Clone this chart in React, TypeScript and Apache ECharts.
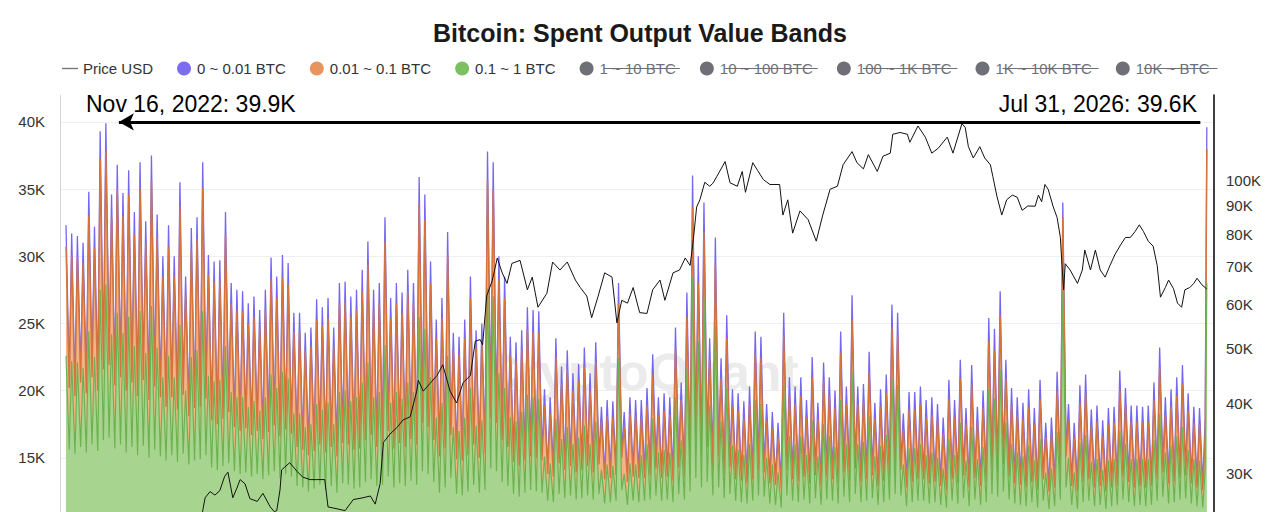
import React, { useEffect, useRef } from 'react';
import * as echarts from 'echarts';

const FONT = '"Liberation Sans", Arial, Helvetica, sans-serif';

// Week 0 starts Sunday 2022-09-25; weekly peak on Wednesday (day 7w+3), weekend trough on Sunday (day 7w+7)
const START_UTC = Date.UTC(2022, 8, 25);
const DAY_MS = 86400000;
const SPIKE_DAY = 1405; // 2026-07-31

const legendNames = [
  'Price USD', '0 ~ 0.01 BTC', '0.01 ~ 0.1 BTC', '0.1 ~ 1 BTC',
  '1 ~ 10 BTC', '10 ~ 100 BTC', '100 ~ 1K BTC', '1K ~ 10K BTC', '10K ~ BTC',
];
const hiddenBands = ['1 ~ 10 BTC', '10 ~ 100 BTC', '100 ~ 1K BTC', '1K ~ 10K BTC', '10K ~ BTC'];
const rightTicks = [30000, 40000, 50000, 60000, 70000, 80000, 90000, 100000];

// Weekly peaks (K): total stacked top, green band, purple band
const totalPeakK = [
  32.3, 31.7, 31.5, 31.0, 34.8, 32.2, 39.3, 39.9, 34.6, 36.8,
  34.7, 36.4, 33.3, 37.0, 32.6, 37.5, 33.1, 30.0, 32.3, 30.0,
  35.5, 28.5, 32.1, 32.9, 37.0, 30.1, 29.6, 29.7, 33.3, 28.0,
  27.5, 27.4, 26.5, 27.0, 26.0, 27.5, 29.9, 28.5, 30.1, 29.5,
  25.8, 25.8, 24.3, 24.7, 26.8, 26.2, 26.9, 24.7, 28.0, 28.1,
  27.0, 27.5, 29.0, 31.1, 27.5, 28.0, 32.9, 26.9, 28.0, 27.3,
  29.0, 28.0, 35.9, 34.6, 29.6, 25.3, 26.9, 31.8, 24.3, 24.0,
  25.3, 28.5, 24.5, 25.0, 37.8, 37.0, 30.0, 28.5, 24.0, 23.6,
  24.5, 26.2, 26.0, 25.9, 20.1, 19.5, 23.9, 21.8, 23.0, 21.3,
  22.0, 23.2, 21.3, 23.6, 18.8, 19.3, 19.2, 28.0, 18.4, 19.5,
  19.3, 19.3, 20.2, 22.7, 19.5, 19.8, 19.5, 24.7, 20.6, 27.3,
  36.0, 30.0, 34.0, 23.9, 31.4, 22.4, 25.6, 20.1, 19.8, 19.2,
  20.3, 24.4, 24.0, 19.0, 18.4, 17.6, 25.8, 21.0, 20.3, 21.0,
  19.3, 22.5, 19.1, 22.1, 21.0, 20.0, 24.4, 20.3, 27.1, 20.3,
  20.5, 22.9, 19.1, 20.1, 21.2, 26.4, 25.8, 18.3, 19.9, 19.9,
  20.3, 19.3, 19.5, 19.0, 18.0, 20.8, 19.3, 22.3, 18.7, 21.9,
  18.8, 20.0, 25.4, 24.6, 27.4, 22.3, 20.2, 19.5, 19.1, 20.1,
  18.7, 20.8, 17.6, 18.0, 21.4, 34.0, 19.0, 17.6, 20.4, 21.2,
  18.6, 18.9, 17.8, 18.7, 18.8, 21.5, 20.2, 18.9, 18.9, 18.8,
  18.9, 20.6, 23.2, 19.5, 20.1, 21.0, 21.9, 19.8, 18.8, 18.7,
  18.0,
];
const greenPeakK = [
  22.6, 22.2, 22.1, 21.7, 24.4, 22.5, 27.5, 27.9, 24.2, 25.8,
  24.3, 25.5, 23.3, 25.9, 22.8, 26.3, 23.2, 21.0, 22.6, 21.0,
  24.9, 20.0, 22.5, 23.0, 25.9, 21.1, 20.7, 20.8, 23.3, 19.9,
  19.5, 19.5, 18.8, 19.2, 18.5, 19.5, 21.2, 20.2, 21.4, 20.9,
  18.3, 18.3, 17.3, 17.5, 19.0, 18.6, 19.1, 17.5, 19.9, 20.0,
  19.2, 19.5, 20.6, 22.1, 19.5, 19.9, 23.4, 19.1, 19.9, 19.4,
  20.6, 19.9, 25.5, 24.6, 21.0, 18.0, 19.1, 22.6, 17.3, 17.0,
  18.0, 20.2, 17.4, 17.8, 27.6, 27.0, 21.3, 20.2, 18.0, 17.7,
  18.4, 19.7, 19.5, 19.4, 15.1, 14.6, 17.9, 16.4, 17.3, 16.0,
  16.5, 17.4, 16.0, 17.7, 14.1, 14.5, 14.4, 22.4, 13.8, 14.6,
  14.5, 15.2, 16.0, 17.9, 15.4, 15.6, 15.4, 19.5, 16.3, 21.6,
  28.4, 23.7, 26.9, 18.9, 24.8, 17.7, 20.2, 15.9, 15.6, 15.2,
  16.0, 19.3, 19.0, 15.0, 14.5, 13.9, 20.4, 16.6, 16.0, 16.6,
  15.2, 17.8, 15.1, 17.5, 16.6, 15.8, 19.3, 16.0, 21.4, 16.0,
  16.2, 18.1, 15.1, 15.9, 16.7, 20.9, 20.4, 14.5, 15.7, 15.7,
  16.0, 15.2, 15.4, 15.0, 14.2, 16.4, 15.2, 17.6, 14.8, 17.3,
  14.9, 15.8, 20.1, 19.4, 21.6, 17.6, 16.0, 15.4, 15.1, 15.9,
  14.8, 16.4, 13.9, 14.2, 16.9, 27.4, 15.0, 13.9, 16.1, 16.7,
  14.7, 14.9, 14.1, 14.8, 14.9, 17.0, 16.0, 14.9, 14.9, 14.9,
  14.9, 16.3, 18.3, 15.4, 15.9, 16.6, 17.3, 15.6, 14.9, 14.8,
  14.2,
];
const purplePeakK = [
  1.6, 1.6, 1.6, 1.5, 1.8, 1.6, 2.0, 2.0, 1.7, 1.8,
  1.7, 1.8, 1.7, 1.9, 1.6, 1.9, 1.7, 1.5, 1.6, 1.5,
  1.8, 1.4, 1.6, 1.6, 1.9, 1.5, 1.5, 1.5, 1.7, 1.5,
  1.5, 1.5, 1.5, 1.5, 1.4, 1.5, 1.6, 1.6, 1.7, 1.6,
  1.4, 1.4, 1.3, 1.4, 1.5, 1.4, 1.5, 1.4, 1.5, 1.5,
  1.5, 1.5, 1.6, 1.7, 1.5, 1.5, 1.8, 1.5, 1.5, 1.5,
  1.6, 1.5, 2.0, 1.9, 1.6, 1.4, 1.5, 1.7, 1.3, 1.3,
  1.4, 1.6, 1.3, 1.4, 2.1, 2.0, 1.7, 1.6, 1.4, 1.4,
  1.5, 1.6, 1.6, 1.6, 1.2, 1.2, 1.4, 1.3, 1.4, 1.3,
  1.3, 1.4, 1.3, 1.4, 1.1, 1.2, 1.2, 1.5, 1.1, 1.2,
  1.2, 1.3, 1.3, 1.5, 1.3, 1.3, 1.3, 1.6, 1.3, 1.8,
  2.3, 2.0, 2.2, 1.6, 2.0, 1.5, 1.7, 1.3, 1.3, 1.2,
  1.3, 1.6, 1.6, 1.2, 1.2, 1.1, 1.7, 1.4, 1.3, 1.4,
  1.3, 1.5, 1.2, 1.4, 1.4, 1.3, 1.6, 1.3, 1.8, 1.3,
  1.3, 1.5, 1.2, 1.3, 1.4, 1.7, 1.7, 1.2, 1.3, 1.3,
  1.3, 1.3, 1.3, 1.2, 1.2, 1.4, 1.3, 1.4, 1.2, 1.4,
  1.2, 1.3, 1.7, 1.6, 1.8, 1.4, 1.3, 1.3, 1.2, 1.3,
  1.2, 1.4, 1.1, 1.2, 1.4, 1.1, 1.2, 1.1, 1.3, 1.4,
  1.2, 1.2, 1.2, 1.2, 1.2, 1.4, 1.3, 1.2, 1.2, 1.2,
  1.2, 1.3, 1.5, 1.3, 1.3, 1.4, 1.4, 1.3, 1.2, 1.2,
  1.2,
];

// Weekend troughs (K) per band
const greenTroughK = [
  15.6, 15.3, 15.8, 15.4, 16.0, 15.5, 16.3, 16.5, 15.7, 16.0,
  15.4, 15.8, 15.2, 15.9, 15.0, 15.6, 15.1, 14.8, 15.2, 14.7,
  15.3, 14.5, 14.8, 14.9, 15.2, 14.3, 14.1, 14.4, 14.6, 14.0,
  13.8, 13.9, 13.6, 13.8, 13.4, 13.7, 14.0, 13.5, 13.8, 13.6,
  12.9, 12.8, 12.5, 12.7, 13.0, 12.6, 12.9, 12.4, 13.1, 13.0,
  12.7, 12.8, 13.2, 13.4, 12.9, 13.0, 13.6, 12.8, 13.1, 12.9,
  13.3, 13.0, 14.0, 13.8, 13.2, 12.4, 12.8, 13.5, 12.3, 12.2,
  12.5, 13.0, 12.4, 12.6, 14.2, 14.0, 13.2, 12.9, 12.3, 12.1,
  12.4, 12.6, 12.5, 12.4, 11.8, 11.7, 12.3, 12.0, 12.2, 11.9,
  12.0, 12.2, 11.9, 12.3, 11.6, 11.7, 11.8, 12.6, 11.5, 11.8,
  11.7, 11.8, 11.9, 12.2, 11.8, 11.9, 11.7, 12.3, 11.9, 12.5,
  13.5, 12.8, 13.2, 12.2, 12.8, 12.0, 12.3, 11.8, 11.7, 11.6,
  11.8, 12.2, 12.1, 11.6, 11.5, 11.3, 12.2, 11.8, 11.7, 11.9,
  11.6, 12.0, 11.5, 11.9, 11.8, 11.6, 12.1, 11.7, 12.3, 11.7,
  11.8, 12.0, 11.5, 11.7, 11.9, 12.3, 12.2, 11.4, 11.7, 11.8,
  11.8, 11.6, 11.7, 11.5, 11.3, 11.8, 11.6, 12.0, 11.4, 11.9,
  11.5, 11.7, 12.3, 12.1, 12.5, 11.9, 11.6, 11.5, 11.4, 11.7,
  11.3, 11.8, 11.2, 11.4, 11.9, 12.8, 11.5, 11.2, 11.7, 11.8,
  11.4, 11.5, 11.2, 11.4, 11.5, 11.9, 11.7, 11.4, 11.5, 11.4,
  11.5, 11.8, 12.1, 11.6, 11.7, 11.9, 12.0, 11.6, 11.4, 11.3,
];
const orangeTroughK = [
  4.6, 4.3, 4.8, 4.4, 5.0, 4.5, 5.3, 5.4, 4.7, 5.0,
  4.6, 4.8, 4.4, 4.9, 4.3, 4.7, 4.4, 4.0, 4.3, 3.9,
  4.4, 3.6, 3.9, 3.9, 4.2, 3.5, 3.4, 3.5, 3.8, 3.3,
  3.2, 3.3, 3.1, 3.2, 3.0, 3.2, 3.4, 3.1, 3.3, 3.2,
  2.9, 2.8, 2.7, 2.8, 3.0, 2.8, 2.9, 2.7, 3.0, 3.0,
  2.9, 2.9, 3.1, 3.3, 2.9, 3.0, 3.4, 2.9, 3.0, 2.9,
  3.1, 3.0, 3.6, 3.5, 3.1, 2.7, 2.9, 3.2, 2.6, 2.6,
  2.7, 3.0, 2.6, 2.7, 3.7, 3.6, 3.1, 2.9, 2.4, 2.3,
  2.4, 2.5, 2.5, 2.4, 2.0, 1.9, 2.3, 2.1, 2.2, 2.0,
  2.1, 2.2, 2.0, 2.2, 1.8, 1.8, 1.9, 2.4, 1.7, 1.8,
  1.8, 1.7, 1.8, 2.0, 1.7, 1.7, 1.6, 2.0, 1.7, 2.1,
  2.8, 2.3, 2.6, 1.9, 2.3, 1.8, 2.0, 1.6, 1.6, 1.5,
  1.6, 1.9, 1.8, 1.5, 1.5, 1.4, 1.9, 1.6, 1.6, 1.7,
  1.5, 1.7, 1.4, 1.7, 1.6, 1.5, 1.8, 1.6, 1.9, 1.5,
  1.6, 1.7, 1.4, 1.6, 1.7, 1.9, 1.9, 1.4, 1.5, 1.6,
  1.6, 1.5, 1.5, 1.4, 1.3, 1.6, 1.5, 1.7, 1.4, 1.6,
  1.4, 1.5, 1.9, 1.8, 2.0, 1.7, 1.5, 1.5, 1.4, 1.5,
  1.3, 1.6, 1.3, 1.4, 1.6, 2.3, 1.4, 1.3, 1.5, 1.6,
  1.4, 1.4, 1.3, 1.4, 1.4, 1.7, 1.5, 1.4, 1.4, 1.4,
  1.4, 1.6, 1.8, 1.5, 1.5, 1.6, 1.7, 1.5, 1.4, 1.3,
];
const purpleTroughK = [
  0.8, 0.7, 0.8, 0.8, 0.9, 0.8, 0.9, 0.9, 0.8, 0.8,
  0.8, 0.8, 0.7, 0.8, 0.7, 0.8, 0.7, 0.7, 0.7, 0.7,
  0.7, 0.6, 0.6, 0.7, 0.7, 0.6, 0.6, 0.6, 0.6, 0.6,
  0.6, 0.6, 0.6, 0.6, 0.5, 0.6, 0.6, 0.6, 0.6, 0.6,
  0.6, 0.5, 0.5, 0.6, 0.5, 0.6, 0.5, 0.6, 0.6, 0.6,
  0.6, 0.6, 0.6, 0.6, 0.6, 0.6, 0.7, 0.6, 0.6, 0.6,
  0.6, 0.6, 0.7, 0.7, 0.6, 0.5, 0.6, 0.6, 0.5, 0.5,
  0.5, 0.6, 0.5, 0.5, 0.7, 0.7, 0.6, 0.6, 0.5, 0.5,
  0.5, 0.5, 0.5, 0.5, 0.4, 0.4, 0.5, 0.5, 0.5, 0.5,
  0.5, 0.5, 0.5, 0.5, 0.4, 0.4, 0.4, 0.5, 0.4, 0.4,
  0.4, 0.4, 0.5, 0.5, 0.4, 0.4, 0.4, 0.5, 0.4, 0.5,
  0.6, 0.5, 0.6, 0.5, 0.5, 0.5, 0.5, 0.4, 0.4, 0.4,
  0.4, 0.5, 0.5, 0.4, 0.4, 0.4, 0.5, 0.4, 0.4, 0.4,
  0.4, 0.5, 0.4, 0.4, 0.4, 0.4, 0.5, 0.4, 0.5, 0.4,
  0.4, 0.4, 0.4, 0.4, 0.4, 0.5, 0.5, 0.4, 0.4, 0.4,
  0.4, 0.4, 0.4, 0.4, 0.4, 0.4, 0.4, 0.5, 0.4, 0.4,
  0.4, 0.4, 0.5, 0.5, 0.5, 0.4, 0.4, 0.4, 0.4, 0.4,
  0.4, 0.4, 0.4, 0.4, 0.4, 0.5, 0.4, 0.4, 0.4, 0.4,
  0.4, 0.4, 0.4, 0.4, 0.4, 0.5, 0.4, 0.4, 0.4, 0.4,
  0.4, 0.4, 0.5, 0.4, 0.4, 0.4, 0.5, 0.4, 0.4, 0.4,
];

// Final-day spike on 2026-07-31 (K)
const spikeGreenK = 28.0;
const spikeOrangeK = 10.0;
const spikePurpleK = 1.6;

// Price USD: day offset from 2022-09-25, value in K
const priceDays = [
  166, 171, 174, 180, 186, 192, 198, 202, 208, 213, 217, 223, 229, 238, 245, 254, 259, 262, 266, 268,
  278, 287, 294, 303, 311, 321, 325, 336, 346, 356, 368, 377, 383, 389, 393, 401, 410, 417, 426, 434,
  436, 442, 450, 459, 466, 475, 483, 491, 500, 506, 512, 515, 520, 527, 533, 539, 545, 551, 561, 570,
  576, 583, 594, 601, 610, 619, 629, 635, 643, 649, 657, 665, 674, 680, 686, 693, 700, 708, 717, 724,
  733, 739, 749, 757, 764, 770, 774, 778, 782, 788, 794, 798, 803, 813, 819, 828, 834, 838, 847, 853,
  860, 868, 880, 884, 890, 896, 905, 915, 925, 933, 942, 951, 958, 969, 975, 983, 989, 1000, 1007, 1016,
  1019, 1028, 1037, 1040, 1050, 1059, 1067, 1075, 1086, 1093, 1104, 1108, 1112, 1118, 1126, 1132, 1139, 1142, 1147, 1153,
  1159, 1166, 1172, 1178, 1185, 1194, 1198, 1202, 1206, 1210, 1216, 1221, 1225, 1227, 1229, 1231, 1237, 1246, 1252, 1255,
  1262, 1268, 1274, 1280, 1286, 1292, 1299, 1305, 1311, 1317, 1322, 1327, 1333, 1339, 1344, 1348, 1354, 1358, 1364, 1369,
  1374, 1378, 1384, 1389, 1393, 1399, 1405,
];
const priceK = [
  22.5, 25.7, 27.1, 27.8, 27.4, 27.9, 29.6, 30.1, 27.1, 28.2, 29.2, 28.7, 27.0, 26.7, 27.6, 26.1, 25.6, 25.7, 28.0, 30.4,
  31.3, 30.2, 29.5, 29.2, 29.2, 29.2, 26.1, 25.9, 25.7, 26.9, 27.1, 27.3, 26.4, 28.7, 34.0, 35.2, 36.2, 37.3, 37.8, 42.0,
  43.9, 42.0, 43.3, 44.8, 46.8, 42.0, 40.0, 43.5, 44.8, 51.6, 51.9, 50.8, 62.1, 66.3, 72.6, 68.3, 65.4, 71.0, 71.9, 63.7,
  67.1, 59.3, 62.8, 71.4, 69.1, 71.4, 66.3, 64.3, 62.1, 56.8, 62.1, 68.3, 67.1, 55.6, 61.0, 60.3, 64.3, 58.0, 57.8, 63.7,
  66.3, 61.0, 68.3, 69.1, 72.6, 70.4, 78.4, 89.5, 92.2, 99.1, 97.5, 98.7, 101.6, 107.9, 98.9, 97.5, 103.6, 95.1, 107.4, 104.0,
  100.2, 98.2, 98.2, 86.6, 92.2, 80.4, 88.1, 85.0, 77.8, 86.6, 96.3, 97.5, 106.5, 112.4, 107.4, 104.7, 111.0, 103.6, 110.3, 111.7,
  120.7, 121.6, 120.7, 116.8, 124.9, 119.3, 111.7, 114.0, 119.3, 111.7, 126.1, 124.2, 114.7, 109.5, 114.7, 109.5, 106.5, 101.5, 93.6, 86.6,
  92.2, 94.0, 93.2, 88.3, 89.9, 89.8, 94.0, 91.5, 98.2, 96.3, 89.8, 85.7, 79.0, 70.4, 63.7, 70.9, 69.1, 65.4, 69.1, 75.0,
  69.1, 75.0, 69.1, 67.1, 70.4, 73.6, 76.6, 79.0, 79.0, 81.0, 83.2, 81.0, 77.8, 76.2, 70.4, 61.8, 64.3, 66.3, 64.0, 60.3,
  59.3, 63.7, 64.3, 65.4, 66.8, 65.0, 63.9,
];

// Annotation (arrow and labels)
const arrowFromDay = 1397;
const arrowToDay = 68;
const arrowLevel = 40000;
const annotLeft = 'Nov 16, 2022: 39.9K';
const annotRight = 'Jul 31, 2026: 39.6K';

const dayTs = (d: number) => START_UTC + d * DAY_MS;
const orangePeakK = totalPeakK.map((t, i) => Math.round((t - greenPeakK[i] - purplePeakK[i]) * 100) / 100);

function bandData(peak: number[], trough: number[], spike: number) {
  const pts: [number, number][] = [];
  peak.forEach((v, w) => {
    pts.push([dayTs(7 * w + 3), v * 1000]);
    if (w < trough.length) pts.push([dayTs(7 * w + 7), trough[w] * 1000]);
  });
  pts.push([dayTs(SPIKE_DAY), spike * 1000]);
  return pts;
}

const COLORS: Record<string, string> = {
  'Price USD': '#777777',
  '0 ~ 0.01 BTC': '#7b6cf0',
  '0.01 ~ 0.1 BTC': '#e9935d',
  '0.1 ~ 1 BTC': '#7dc063',
};
const INACTIVE = '#6f6f78';
const CHART_H = 540; // taller canvas; the page window shows the top 512 px

export default function App() {
  const ref = useRef<HTMLDivElement>(null);
  useEffect(() => {
    document.body.style.margin = '0';
    const chart = echarts.init(ref.current!, undefined, { renderer: 'svg' });

    const LEG_FS = 15, ICON_W = 16, ICON_H = 14, GAP = 24, LEG_TOP = 61;
    const ctx = document.createElement('canvas').getContext('2d')!;
    ctx.font = `${LEG_FS}px ${FONT}`;
    const widths = legendNames.map((n) => ctx.measureText(n).width);
    const itemW = widths.map((w) => ICON_W + 5 + w);
    const total = itemW.reduce((a, b) => a + b, 0) + GAP * (legendNames.length - 1);
    const legLeft = Math.round((1280 - total) / 2);
    const strikes: any[] = [];
    let cx = legLeft;
    legendNames.forEach((n, i) => {
      if (hiddenBands.includes(n)) {
        const x1 = cx + ICON_W + 5;
        strikes.push({
          type: 'line', z: 100, silent: true,
          shape: { x1, y1: LEG_TOP + ICON_H / 2 + 0.5, x2: x1 + widths[i], y2: LEG_TOP + ICON_H / 2 + 0.5 },
          style: { stroke: INACTIVE, lineWidth: 1 },
        });
      }
      cx += itemW[i] + GAP;
    });

    const selected: Record<string, boolean> = {};
    hiddenBands.forEach((n) => (selected[n] = false));

    const bandSeries = (name: string, line: string, width: number, fill: string, data: any, z: number, extra: any = {}) => ({
      name, type: 'line', stack: 'bands', yAxisIndex: 0, symbol: 'none', showSymbol: false,
      color: COLORS[name], lineStyle: { color: line, width },
      areaStyle: { color: fill, opacity: 1 }, emphasis: { disabled: true }, data, z, ...extra,
    });

    const option: any = {
      animation: false,
      textStyle: { fontFamily: FONT },
      title: {
        text: 'Bitcoin: Spent Output Value Bands', left: 'center', top: 15,
        textStyle: { fontSize: 25, fontWeight: 'bold', color: '#1a1a1a', fontFamily: FONT },
      },
      legend: {
        left: legLeft, top: LEG_TOP, padding: 0, itemGap: GAP, itemWidth: ICON_W, itemHeight: ICON_H,
        textStyle: { fontSize: LEG_FS, color: '#333', fontFamily: FONT },
        inactiveColor: INACTIVE, inactiveBorderColor: INACTIVE, selected,
        data: legendNames.map((n) =>
          n === 'Price USD'
            ? { name: n, icon: 'path://M0,0 L16,0 L16,1.4 L0,1.4 Z', itemStyle: { color: COLORS[n] } }
            : { name: n, icon: 'circle', itemStyle: { color: COLORS[n] || INACTIVE } }
        ),
      },
      grid: { left: 60, right: 66, top: 95, bottom: CHART_H - 525, containLabel: false, outerBoundsMode: 'none' },
      xAxis: { type: 'time', min: dayTs(-4.37), max: dayTs(1413.8), show: false },
      yAxis: [
        {
          type: 'value', position: 'left', min: 10000, max: 42000, interval: 5000,
          axisLine: { show: true, lineStyle: { color: '#d6d6d6', width: 1 } },
          axisTick: { show: false },
          axisLabel: {
            color: '#333', fontSize: 15, margin: 15, showMaxLabel: false, showMinLabel: false, fontFamily: FONT,
            formatter: (v: number) => `${v / 1000}K`,
          },
          splitLine: { show: true, showMaxLine: false, lineStyle: { color: '#efefef', width: 1 } },
        },
        {
          type: 'log', logBase: 10, position: 'right', min: 24230, max: 141850,
          axisLine: { show: true, lineStyle: { color: '#000', width: 1.5 } },
          axisTick: { show: false }, axisLabel: { show: false }, splitLine: { show: false },
        },
      ],
      graphic: [
        {
          type: 'text', x: 640, y: 372, z: 0, silent: true,
          style: { text: 'CryptoQuant', font: `bold 52px ${FONT}`, fill: '#ebebeb', align: 'center', verticalAlign: 'middle' },
        },
        {
          type: 'text', x: 86, y: 104, z: 100, silent: true,
          style: { text: annotLeft, font: `23px ${FONT}`, fill: '#000', align: 'left', verticalAlign: 'middle' },
        },
        {
          type: 'text', x: 1197, y: 104, z: 100, silent: true,
          style: { text: annotRight, font: `23px ${FONT}`, fill: '#000', align: 'right', verticalAlign: 'middle' },
        },
        ...strikes,
      ],
      series: [
        // stacked bottom-to-top: green, orange, purple; drawn with green on top
        bandSeries('0.1 ~ 1 BTC', '#6db24e', 1.2, '#a7d590', bandData(greenPeakK, greenTroughK, spikeGreenK), 4, {
          markLine: {
            silent: true, animation: false, symbol: ['none', 'arrow'], symbolSize: [13, 15],
            lineStyle: { color: '#000', width: 3, type: 'solid' }, label: { show: false },
            emphasis: { disabled: true },
            data: [[{ coord: [dayTs(arrowFromDay), arrowLevel] }, { coord: [dayTs(arrowToDay), arrowLevel] }]],
          },
        }),
        bandSeries('0.01 ~ 0.1 BTC', '#d6743c', 1.4, '#f2b387', bandData(orangePeakK, orangeTroughK, spikeOrangeK), 3),
        bandSeries('0 ~ 0.01 BTC', '#7566f0', 1.3, '#8c80f2', bandData(purplePeakK, purpleTroughK, spikePurpleK), 2),
        {
          name: 'Price USD', type: 'line', yAxisIndex: 1, symbol: 'none', showSymbol: false, z: 6,
          color: '#000', lineStyle: { color: '#111', width: 1 }, emphasis: { disabled: true },
          data: priceDays.map((d, i) => [dayTs(d), priceK[i] * 1000]),
          markLine: {
            silent: true, animation: false, symbol: 'none',
            lineStyle: { color: 'rgba(0,0,0,0)', width: 1 },
            emphasis: { disabled: true },
            label: {
              show: true, position: 'end', distance: 12, color: '#333', fontSize: 15, fontFamily: FONT,
              formatter: (p: any) => `${Math.round(p.value / 1000)}K`,
            },
            data: rightTicks.map((v) => ({ yAxis: v })),
          },
        },
        ...hiddenBands.map((n) => ({
          name: n, type: 'line', stack: 'bands', yAxisIndex: 0, symbol: 'none', color: INACTIVE, data: [],
        })),
      ],
    };
    chart.setOption(option);
    return () => chart.dispose();
  }, []);
  return (
    <div style={{ width: 1280, height: 512, overflow: 'hidden' }}>
      <div ref={ref} style={{ width: 1280, height: CHART_H }} />
    </div>
  );
}
